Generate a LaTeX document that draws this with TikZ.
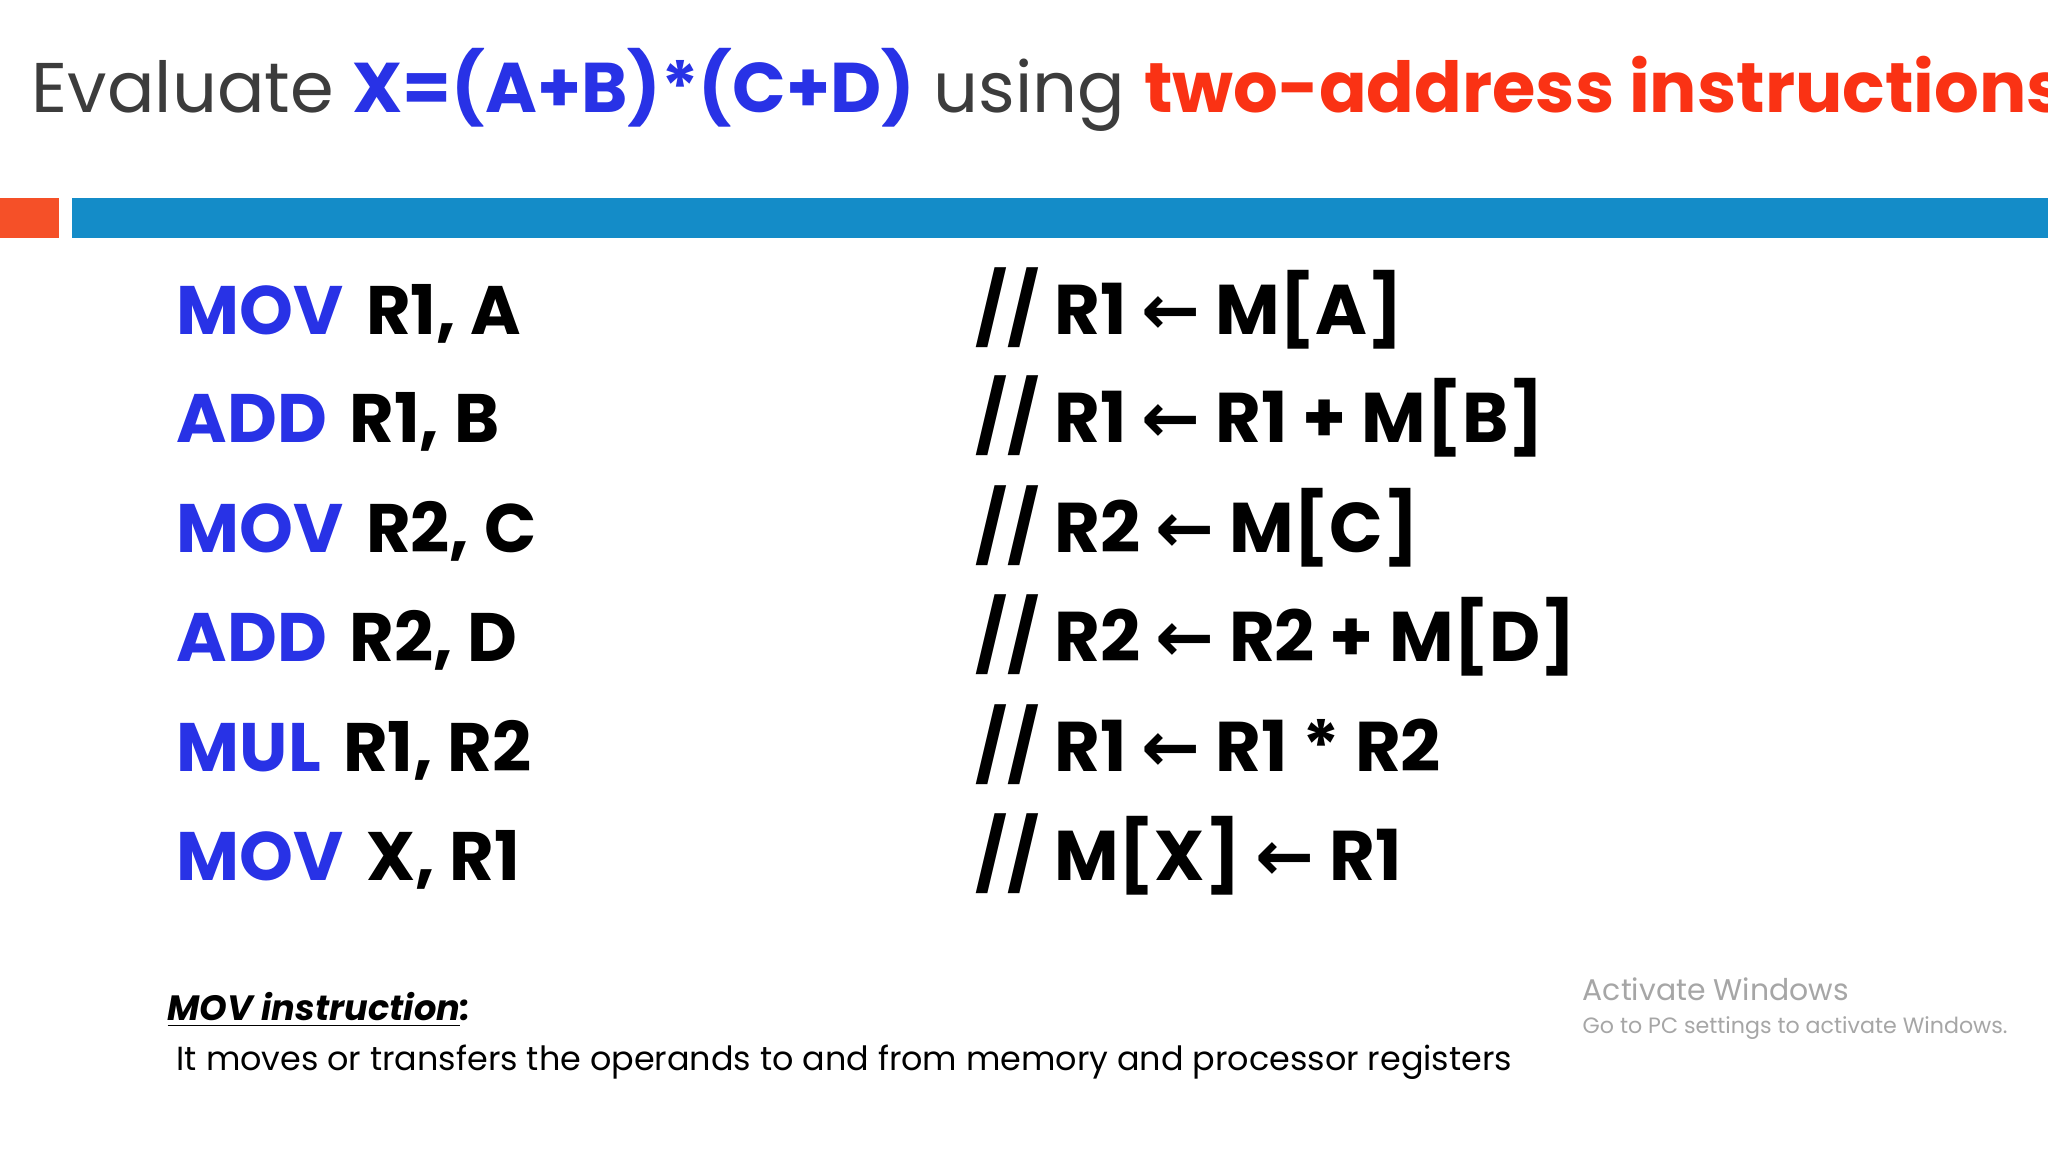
\documentclass[tikz,border=0pt]{standalone}
\usepackage{fontspec}
\setmainfont{Poppins}
\newfontfamily\dv{DejaVu Sans}
\definecolor{kw}{RGB}{40,50,230}
\definecolor{tred}{RGB}{250,50,20}
\definecolor{bar}{RGB}{20,140,200}
\definecolor{ored}{RGB}{245,80,40}
\definecolor{gr}{RGB}{60,60,60}
\tikzset{code/.style={anchor=base west,inner sep=0pt,font=\fontsize{19.5}{22}\selectfont\bfseries},
 com/.style={anchor=base west,inner sep=0pt,font=\fontsize{20}{22}\selectfont\bfseries},
 kwd/.style={code,text=kw}}
\begin{document}
\begin{tikzpicture}[x=0.01cm,y=-0.01cm]
\useasboundingbox (0,0) rectangle (2048,1152);
\fill[white] (0,0) rectangle (2048,1152);
\node[anchor=base west,inner sep=0pt,font=\fontsize{20}{24}\selectfont] (title) at (31,113)
 {\textcolor{gr}{Evaluate} \textcolor{kw}{\bfseries X=(A+B)*(C+D)} \textcolor{gr}{using} \textcolor{tred}{\bfseries two-address instructions}};
\fill[ored] (0,198) rectangle (59,238);
\fill[bar] (72,198) rectangle (2048,238);
\foreach \y/\k/\a/\c in {335/MOV/{R1, A}/{R1 {\dv ←} M[A]},
 443/ADD/{R1, B}/{R1 {\dv ←} R1 + M[B]},
 553/MOV/{R2, C}/{R2 {\dv ←} M[C]},
 661/ADD/{R2, D}/{R2 {\dv ←} R2 + M[D]},
 771/MUL/{R1, R2}/{R1 {\dv ←} R1 * R2},
 880/MOV/{X, R1}/{M[X] {\dv ←} R1}}{
 \node[kwd] (k\y) at (176,\y) {\k};
 \node[code] (a\y) at ([xshift=6]k\y.base east) {\a};
 \node[com] (c\y) at (975,\y) {// \c};
}
\node[anchor=base west,inner sep=0pt,font=\fontsize{10}{12}\selectfont\bfseries\itshape] (mov) at (167,1020) {\underline{MOV instruction}:};
\node[anchor=base west,inner sep=0pt,font=\fontsize{9.5}{12}\selectfont] (desc) at (176,1070) {It moves or transfers the operands to and from memory and processor registers};
\node[anchor=base west,inner sep=0pt,text=black!35,font=\fontsize{8.5}{10}\selectfont] (aw) at (1582,1000) {Activate Windows};
\node[anchor=base west,inner sep=0pt,text=black!35,font=\fontsize{6.3}{8}\selectfont] (aw2) at (1582,1033) {Go to PC settings to activate Windows.};
\end{tikzpicture}
\end{document}
